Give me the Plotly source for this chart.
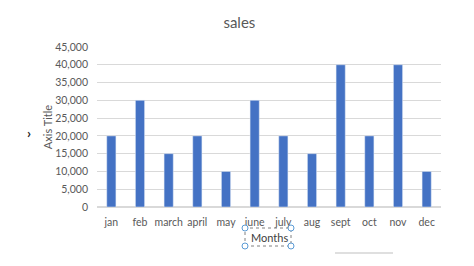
import plotly.graph_objects as go

months = ["jan", "feb", "march", "april", "may", "june", "july", "aug", "sept", "oct", "nov", "dec"]
sales = [20000, 30000, 15000, 20000, 10000, 30000, 20000, 15000, 40000, 20000, 40000, 10000]
y_ticks = list(range(0, 45001, 5000))

fig = go.Figure(go.Bar(x=months, y=sales, marker_color="#4472C4", width=0.32))

font = "Lato, Liberation Sans, sans-serif"
fig.update_layout(
    width=474, height=266,
    margin=dict(l=97, r=33, t=47, b=59),
    paper_bgcolor="white", plot_bgcolor="white",
    font=dict(family=font, color="#595959", size=10.5),
    title=dict(text="sales", x=0.505, xanchor="center", y=0.915, yanchor="middle",
               font=dict(size=15, color="#595959", family=font)),
    showlegend=False,
)
fig.update_yaxes(range=[0, 45000], tickvals=y_ticks, tickformat=",d",
                 showgrid=True, gridcolor="#D9D9D9", gridwidth=1,
                 zeroline=True, zerolinecolor="#D9D9D9", ticks="", ticklen=0,
                 ticklabelstandoff=8,
                 title=dict(text="Axis Title", font=dict(size=11, color="#595959"), standoff=0))
fig.update_xaxes(showgrid=False, showline=True, linecolor="#D9D9D9", ticks="",
                 ticklabelstandoff=5,
                 tickfont=dict(size=10.5, color="#595959"))

# "Months" axis title with selection box
fig.add_annotation(text="Months", x=0.5, y=(207 - 237) / 160, xref="paper", yref="paper",
                   showarrow=False, font=dict(size=11, color="#404040"),
                   xanchor="center", yanchor="middle")
x0, x1 = (245 - 97) / 344, (291 - 97) / 344
y0, y1 = (207 - 246) / 160, (207 - 228) / 160
fig.add_shape(type="rect", xref="paper", yref="paper", x0=x0, x1=x1, y0=y0, y1=y1,
              line=dict(color="#808080", width=1, dash="dot"))
for xx in (x0, x1):
    for yy in (y0, y1):
        fig.add_shape(type="circle", xref="paper", yref="paper",
                      x0=xx - 3 / 344, x1=xx + 3 / 344, y0=yy - 3 / 160, y1=yy + 3 / 160,
                      line=dict(color="#5B9BD5", width=1), fillcolor="white")
# stray line bottom right
fig.add_shape(type="line", xref="paper", yref="paper",
              x0=(335 - 97) / 344, x1=(393 - 97) / 344,
              y0=(207 - 253) / 160, y1=(207 - 253) / 160,
              line=dict(color="#BFBFBF", width=1))
# small glyph at left
fig.add_annotation(text="<b>›</b>", x=(29 - 97) / 344, y=(207 - 132) / 160,
                   xref="paper", yref="paper", xanchor="center", yanchor="middle",
                   showarrow=False, font=dict(size=14, color="#262626"))

fig.write_html("out.html")
